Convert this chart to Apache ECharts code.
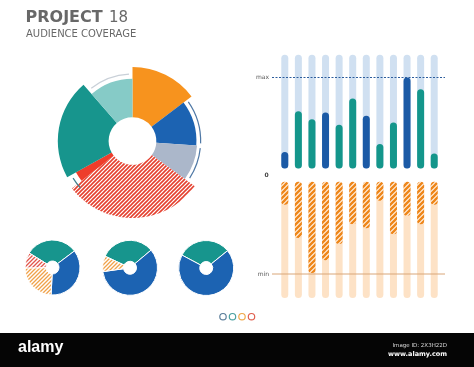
<!DOCTYPE html>
<html><head><meta charset="utf-8">
<script src="https://cdn.jsdelivr.net/npm/echarts@6/dist/echarts.min.js"></script>
<style>html,body{margin:0;padding:0;background:#fff}#c{width:474px;height:367px}</style>
</head><body><div id="c"></div>
<script>
// ---------- data ----------
const columns = ['1','2','3','4','5','6','7','8','9','10','11','12'];
const reachValues = [18, 63, 54, 61.5, 48, 77, 58, 27, 50.5, 100, 87, 16.5];
const reachKinds  = ['blue','teal','teal','blue','teal','teal','blue','teal','teal','blue','teal','teal'];
const lossValues  = [25, 61, 99, 85, 67.5, 46, 50.5, 20.6, 57, 37, 46, 25];
const trackTop = 125;
const trackBottom = 126;
const maxRef = 100;
const minRef = 100;
const refLabels = ['max', '0', 'min'];

const pieNames  = ['Orange', 'Blue', 'Gray', 'Hatched', 'Red', 'Teal', 'Light teal'];
const pieStart  = [0, 53, 94, 126, 232, 241, 319];
const pieEnd    = [53, 94, 126, 232, 241, 319, 360];
const pieReach  = [96, 83, 84, 100, 84, 97, 81];
const pieHole   = 31;

const ringStart = [322, 55, 96, 228];
const ringEnd   = [357, 92, 123, 238];
const ringReach = [87, 88.5, 88.5, 91];

const donutNames = ['Teal', 'Blue', 'Hatched orange', 'Hatched red'];
const donut1 = [111, 130, 86, 33];
const donut2 = [115, 212, 33];
const donut3 = [113, 247];
const donutStart = [148, 155, 152];

const titleMain = 'PROJECT';
const titleNum = '18';
const subtitle = 'AUDIENCE COVERAGE';

// ---------- styles ----------
function stripes(size, width, fg, bg) {
  const c = document.createElement('canvas');
  c.width = size; c.height = size;
  const g = c.getContext('2d');
  if (bg) { g.fillStyle = bg; g.fillRect(0, 0, size, size); }
  g.strokeStyle = fg; g.lineWidth = width; g.lineCap = 'square';
  g.beginPath();
  g.moveTo(0, size); g.lineTo(size, 0);
  g.moveTo(-size / 2, size / 2); g.lineTo(size / 2, -size / 2);
  g.moveTo(size / 2, size * 1.5); g.lineTo(size * 1.5, size / 2);
  g.stroke();
  return { image: c, repeat: 'repeat' };
}
const C = {
  orange: '#f7931e', blue: '#1c63b2', gray: '#abb7ca', teal: '#17958d', lteal: '#86cbc7', red: '#ee3d2b',
  barBlue: '#1b5aa6', barTeal: '#14968b', trackBlue: '#d0e0f1', trackOrange: '#fde2c6'
};
const redHatch = stripes(4, 1.6, '#e5402f', '#ffffff');
const barHatch = stripes(5, 2.3, '#ee861a', '#fff1e2');
const smallOrangeHatch = stripes(4, 1.3, '#f0a24a', '#ffffff');
const smallRedHatch = stripes(4, 1.3, '#e2574c', '#ffffff');
const pieFills = [C.orange, C.blue, C.gray, redHatch, C.red, C.teal, C.lteal];
const ringColors = ['#c9d0d8', '#4f78a5', '#4f78a5', '#3f7e8e'];
const donutFills = [C.teal, C.blue, smallOrangeHatch, smallRedHatch];

function polarGeom(api, reach, a0, a1, inner) {
  const c = api.coord([0, 0]);
  const cx = c[0], cy = c[1];
  const p0 = api.coord([reach, a0]);
  const p1 = api.coord([reach, a1]);
  const r = Math.hypot(p0[0] - cx, p0[1] - cy);
  let s = Math.atan2(p0[1] - cy, p0[0] - cx);
  let e = Math.atan2(p1[1] - cy, p1[0] - cx);
  if (e <= s) e += Math.PI * 2;
  let r0 = 0;
  if (inner != null) {
    const q = api.coord([inner, a0]);
    r0 = Math.hypot(q[0] - cx, q[1] - cy);
  }
  return { cx, cy, r, r0, startAngle: s, endAngle: e, clockwise: true };
}

const chart = echarts.init(document.getElementById('c'), null, { renderer: 'canvas' });
const font = '"DejaVu Sans", sans-serif';

const option = {
  animation: false,
  backgroundColor: '#ffffff',
  polar: { center: [132.5, 141], radius: 77 },
  angleAxis: { type: 'value', min: 0, max: 360, startAngle: 90, clockwise: true, show: false },
  radiusAxis: { type: 'value', min: 0, max: 100, show: false },
  grid: [
    { left: 278, top: 54.75, width: 163, height: 113.75 },
    { left: 278, top: 181.7, width: 163, height: 116.3 },
    { left: 272, top: 54.75, width: 173, height: 113.75 },
    { left: 272, top: 181.7, width: 173, height: 116.3 }
  ],
  xAxis: [
    { type: 'category', gridIndex: 0, data: columns, show: false },
    { type: 'category', gridIndex: 1, data: columns, show: false },
    { type: 'value', gridIndex: 2, min: 0, max: 1, show: false },
    { type: 'value', gridIndex: 3, min: 0, max: 1, show: false }
  ],
  yAxis: [
    { type: 'value', gridIndex: 0, min: 0, max: trackTop, show: false },
    { type: 'value', gridIndex: 1, min: 0, max: trackBottom, inverse: true, show: false },
    { type: 'value', gridIndex: 2, min: 0, max: trackTop, interval: 25,
      axisLine: { show: false }, axisTick: { show: false }, splitLine: { show: false },
      axisLabel: { margin: 3, fontSize: 6, color: '#555', fontFamily: font,
        formatter: v => (v === maxRef ? refLabels[0] : '') } },
    { type: 'value', gridIndex: 3, min: 0, max: trackBottom, inverse: true, interval: 25,
      axisLine: { show: false }, axisTick: { show: false }, splitLine: { show: false },
      axisLabel: { margin: 3, fontSize: 6, color: '#555', fontFamily: font,
        formatter: v => (v === minRef ? refLabels[2] : '') } }
  ],
  series: [
    { type: 'bar', xAxisIndex: 0, yAxisIndex: 0, barWidth: 7, silent: true,
      data: columns.map(() => trackTop),
      itemStyle: { color: C.trackBlue, borderRadius: 3.5 } },
    { type: 'bar', xAxisIndex: 0, yAxisIndex: 0, barWidth: 7, barGap: '-100%', silent: true,
      data: reachValues.map((v, i) => ({ value: v, itemStyle: { color: reachKinds[i] === 'blue' ? C.barBlue : C.barTeal } })),
      itemStyle: { borderRadius: 3.5 } },
    { type: 'bar', xAxisIndex: 1, yAxisIndex: 1, barWidth: 7, silent: true,
      data: columns.map(() => trackBottom),
      itemStyle: { color: C.trackOrange, borderRadius: 3.5 } },
    { type: 'bar', xAxisIndex: 1, yAxisIndex: 1, barWidth: 7, barGap: '-100%', silent: true,
      data: lossValues,
      itemStyle: { color: barHatch, borderRadius: 3.5 } },
    { type: 'line', xAxisIndex: 2, yAxisIndex: 2, symbol: 'none', silent: true, z: 5,
      data: [[0, maxRef], [1, maxRef]],
      lineStyle: { color: '#2c5d9c', width: 1, type: [2, 1.5] } },
    { type: 'line', xAxisIndex: 3, yAxisIndex: 3, symbol: 'none', silent: true, z: 5,
      data: [[0, minRef], [1, minRef]],
      lineStyle: { color: '#d9a679', width: 1 } },
    { type: 'custom', coordinateSystem: 'polar', silent: true, clip: false,
      encode: { radius: 0, angle: 1 },
      data: pieNames.map((n, i) => ({ name: n, value: [pieReach[i], pieStart[i], pieEnd[i]] })),
      renderItem: (params, api) => ({
        type: 'sector',
        shape: polarGeom(api, api.value(0), api.value(1), api.value(2), pieHole),
        style: { fill: pieFills[params.dataIndex] }
      }) },
    { type: 'custom', coordinateSystem: 'polar', silent: true, clip: false,
      encode: { radius: 0, angle: 1 },
      data: ringStart.map((s, i) => [ringReach[i], s, ringEnd[i]]),
      renderItem: (params, api) => {
        const g = polarGeom(api, api.value(0), api.value(1), api.value(2));
        return { type: 'arc', shape: { cx: g.cx, cy: g.cy, r: g.r, startAngle: g.startAngle, endAngle: g.endAngle, clockwise: true },
          style: { stroke: ringColors[params.dataIndex], lineWidth: 1.2, fill: null } };
      } },
    ...[donut1, donut2, donut3].map((d, k) => ({
      type: 'pie', silent: true, center: [[52.5, 267.5], [130, 267.8], [206.2, 268]][k],
      radius: [6.5, 27.5], startAngle: donutStart[k], clockwise: true,
      label: { show: false }, labelLine: { show: false },
      itemStyle: { borderColor: '#fff', borderWidth: 1 },
      data: d.map((v, i) => ({ value: v, name: donutNames[i], itemStyle: { color: donutFills[i] } }))
    }))
  ],
  graphic: [
    { type: 'text', x: 25.5, y: 17.7, style: { text: titleMain, font: 'bold 16px ' + font, fill: '#686868', verticalAlign: 'middle', textVerticalAlign: 'middle' } },
    { type: 'text', x: 109, y: 17.7, style: { text: titleNum, font: '15px ' + font, fill: '#686868', verticalAlign: 'middle', textVerticalAlign: 'middle' } },
    { type: 'text', x: 26, y: 34.7, style: { text: subtitle, font: '10px ' + font, fill: '#686868', verticalAlign: 'middle', textVerticalAlign: 'middle' } },
    { type: 'text', x: 266.5, y: 175.5, style: { text: refLabels[1], font: 'bold 6px ' + font, fill: '#444', align: 'center', textAlign: 'center', verticalAlign: 'middle', textVerticalAlign: 'middle' } },
    { type: 'circle', shape: { cx: 223, cy: 316.7, r: 3.2 }, style: { fill: '#fff', stroke: '#5a7d99', lineWidth: 1.2 } },
    { type: 'circle', shape: { cx: 232.5, cy: 316.7, r: 3.2 }, style: { fill: '#fff', stroke: '#4aa0a0', lineWidth: 1.2 } },
    { type: 'circle', shape: { cx: 242, cy: 316.7, r: 3.2 }, style: { fill: '#fff', stroke: '#f0a848', lineWidth: 1.2 } },
    { type: 'circle', shape: { cx: 251.5, cy: 316.7, r: 3.2 }, style: { fill: '#fff', stroke: '#e0604f', lineWidth: 1.2 } },
    { type: 'rect', shape: { x: 0, y: 333, width: 474, height: 34 }, style: { fill: '#050505' } },
    { type: 'text', x: 18, y: 348, style: { text: 'alamy', font: 'bold 16px "Liberation Sans Narrow", "Liberation Sans", sans-serif', fill: '#fff', verticalAlign: 'middle', textVerticalAlign: 'middle' } },
    { type: 'text', x: 447, y: 345.5, style: { text: 'Image ID: 2X3H22D', font: '5.5px ' + font, fill: '#ddd', align: 'right', textAlign: 'right', verticalAlign: 'middle', textVerticalAlign: 'middle' } },
    { type: 'text', x: 447, y: 354.5, style: { text: 'www.alamy.com', font: 'bold 6.5px ' + font, fill: '#fff', align: 'right', textAlign: 'right', verticalAlign: 'middle', textVerticalAlign: 'middle' } }
  ]
};
chart.setOption(option);
</script>
</body></html>
